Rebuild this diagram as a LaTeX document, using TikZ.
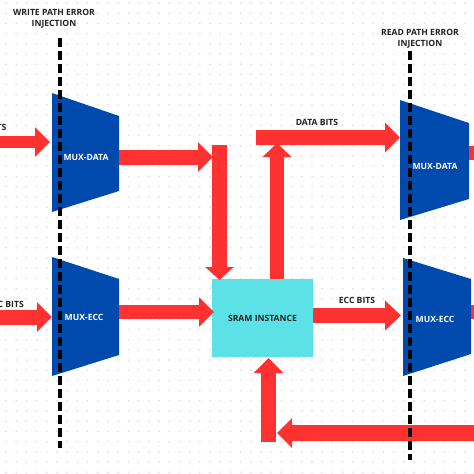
\documentclass[tikz,border=0pt]{standalone}
\usepackage{fontspec}
\setmainfont{Open Sans}
\usetikzlibrary{arrows.meta}
\definecolor{arrowred}{HTML}{FF3131}
\definecolor{muxblue}{HTML}{004AAD}
\definecolor{sramcyan}{HTML}{5CE1E6}
\definecolor{dotgray}{HTML}{D8D8D8}
\definecolor{labelblack}{HTML}{222222}
\tikzset{
  redarrow/.style={draw=arrowred, line width=15pt, -{Triangle[width=29pt,length=15pt]}},
  redstub/.style={draw=arrowred, line width=14pt},
  muxshape/.style={fill=muxblue, draw=none},
  muxlabel/.style={text=white, font=\bfseries\fontsize{8.6}{11}\selectfont, inner sep=0pt},
  sigtext/.style={text=labelblack, font=\bfseries\fontsize{8.6}{11}\selectfont, inner sep=0pt},
  injline/.style={draw=black, line width=4pt, dash pattern=on 9pt off 4pt},
  srambox/.style={fill=sramcyan, draw=none, minimum width=101pt, minimum height=78pt, inner sep=0pt, text=labelblack, font=\bfseries\fontsize{8.6}{11}\selectfont}
}
\begin{document}
\begin{tikzpicture}[x=1pt,y=-1pt]
\useasboundingbox (0,0) rectangle (474,474);
\fill[white] (0,0) rectangle (474,474);
% dot grid
\foreach \i in {0,...,46}{
  \foreach \j in {0,...,46}{
    \fill[dotgray] ({6+10.2*\i},{3+10.2*\j}) circle (0.85pt);
  }
}
% muxes
\fill[muxshape] (52,93) -- (119,116) -- (119,191) -- (52,212) -- cycle;
\fill[muxshape] (52,257) -- (119,279) -- (119,355) -- (52,376) -- cycle;
\fill[muxshape] (400,100) -- (469,123) -- (469,199) -- (400,220) -- cycle;
\fill[muxshape] (403,258) -- (471,279) -- (471,354) -- (403,376) -- cycle;
% SRAM
\node[srambox] (sram) at (262.5,318) {SRAM INSTANCE};
% named coordinates
\coordinate (dinL) at (-5,142);
\coordinate (md1in) at (50,142);
\coordinate (md1out) at (119,157);
\coordinate (vbarhit) at (213,157);
\coordinate (vbartop) at (219.5,145);
\coordinate (sramtopL) at (219.5,280);
\coordinate (einL) at (-5,317);
\coordinate (me1in) at (52,317);
\coordinate (me1out) at (119,312);
\coordinate (sramleft) at (214,312);
\coordinate (sramtopR) at (277,279);
\coordinate (upTip) at (277,143);
\coordinate (dbStart) at (256,137.5);
\coordinate (md2in) at (400,137.5);
\coordinate (md2out) at (469,153);
\coordinate (md2outR) at (480,153);
\coordinate (sramright) at (313,315.5);
\coordinate (me2in) at (401,315.5);
\coordinate (me2out) at (471,312);
\coordinate (me2outR) at (480,312);
\coordinate (fbR) at (480,433);
\coordinate (fbTip) at (277,433);
\coordinate (fbBot) at (268.5,442);
\coordinate (srambot) at (268.5,358);
% arrows
\draw[redarrow, line width=12pt, -{Triangle[width=29pt,length=15pt]}] (dinL) -- (md1in);
\draw[redarrow] (md1out) -- (vbarhit);
\draw[redarrow, -{Triangle[width=28pt,length=13pt]}] (vbartop) -- (sramtopL);
\draw[redarrow] (einL) -- (me1in);
\draw[redarrow, line width=14pt] (me1out) -- (sramleft);
\draw[redarrow, line width=14pt, -{Triangle[width=28pt,length=14pt]}] (sramtopR) -- (upTip);
\draw[redarrow] (dbStart) -- (md2in);
\draw[redstub] (md2out) -- (md2outR);
\draw[redarrow, -{Triangle[width=29pt,length=16pt]}] (sramright) -- (me2in);
\draw[redstub] (me2out) -- (me2outR);
\draw[redarrow, line width=16pt] (fbR) -- (fbTip);
\draw[redarrow] (fbBot) -- (srambot);
% mux labels
\node[muxlabel] (muxd1) at (86,157) {MUX-DATA};
\node[muxlabel] (muxe1) at (84,317) {MUX-ECC};
\node[muxlabel] (muxd2) at (435,166) {MUX-DATA};
\node[muxlabel] (muxe2) at (435,319) {MUX-ECC};
% injection lines
\coordinate (wtop) at (60,38);
\coordinate (wbot) at (60,448);
\coordinate (rtop) at (410,51);
\coordinate (rbot) at (410,460);
\draw[injline] (wtop) -- (wbot);
\draw[injline] (rtop) -- (rbot);
% texts
\node[sigtext, align=center] (wlabel) at (54,19) {WRITE PATH ERROR\\INJECTION};
\node[sigtext, align=center] (rlabel) at (420,38.5) {READ PATH ERROR\\INJECTION};
\node[sigtext] (dbits) at (317,122) {DATA BITS};
\node[sigtext] (ebits) at (357,300) {ECC BITS};
\node[sigtext, anchor=east] (dbitsL) at (6.5,127) {DATA BITS};
\node[sigtext, anchor=east] (ebitsL) at (24,304) {ECC BITS};
\end{tikzpicture}
\end{document}
